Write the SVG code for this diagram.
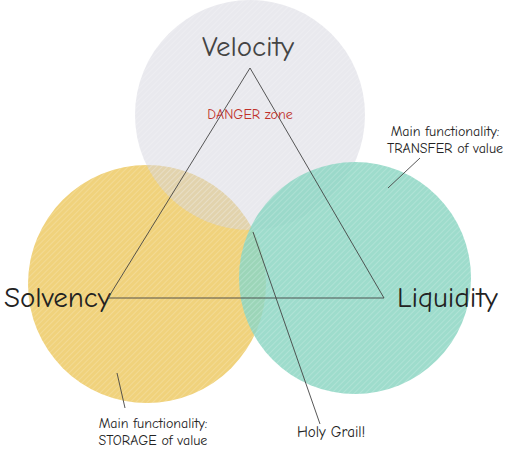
<svg xmlns="http://www.w3.org/2000/svg" width="512" height="453" viewBox="0 0 512 453">
<style>
.lbl{font-family:"Comic Neue","Liberation Sans",sans-serif;fill:#222}
.big{font-size:29px}
.sm{font-size:14px}
.ln{stroke:#444;stroke-width:0.9;fill:none}
</style>
<defs>
<pattern id="hatch" width="4" height="4" patternUnits="userSpaceOnUse" patternTransform="rotate(45)">
<line x1="0" y1="0" x2="0" y2="4" stroke="#ffffff" stroke-opacity="0.35" stroke-width="1"/>
</pattern>
</defs>
<rect width="512" height="453" fill="#ffffff"/>
<g id="solvency">
<circle cx="147" cy="284" r="119" fill="#f0d27c"/>
<circle cx="147" cy="284" r="119" fill="url(#hatch)"/>
<text class="lbl big" x="4" y="307">Solvency</text>
</g>
<g id="velocity">
<circle cx="250" cy="115" r="115" fill="#d4d4de" fill-opacity="0.5"/>
<circle cx="250" cy="115" r="115" fill="url(#hatch)"/>
<text class="lbl big" x="248" y="56" text-anchor="middle" style="fill:#444">Velocity</text>
</g>
<g id="liquidity">
<circle cx="355" cy="278" r="116" fill="#8dd6c3" fill-opacity="0.85"/>
<circle cx="355" cy="278" r="116" fill="url(#hatch)"/>
<text class="lbl big" x="397" y="307">Liquidity</text>
</g>
<g id="connectors">
<polygon class="ln" points="250,68 108,298 384,298"/>
<line class="ln" x1="253" y1="232" x2="320" y2="424"/>
<line class="ln" x1="388" y1="188" x2="420" y2="158"/>
<line class="ln" x1="117" y1="373" x2="125" y2="408"/>
</g>
<g id="danger">
<text class="lbl sm" x="250" y="119" text-anchor="middle" style="fill:#c0302a">DANGER zone</text>
</g>
<g id="transfer">
<text class="lbl sm" x="445" y="136" text-anchor="middle">Main functionality:</text>
<text class="lbl sm" x="445" y="153" text-anchor="middle">TRANSFER of value</text>
</g>
<g id="storage">
<text class="lbl sm" x="153" y="428" text-anchor="middle">Main functionality:</text>
<text class="lbl sm" x="153" y="445" text-anchor="middle">STORAGE of value</text>
</g>
<g id="holygrail">
<text class="lbl sm" x="297" y="437" style="font-size:15px">Holy Grail!</text>
</g>
</svg>
